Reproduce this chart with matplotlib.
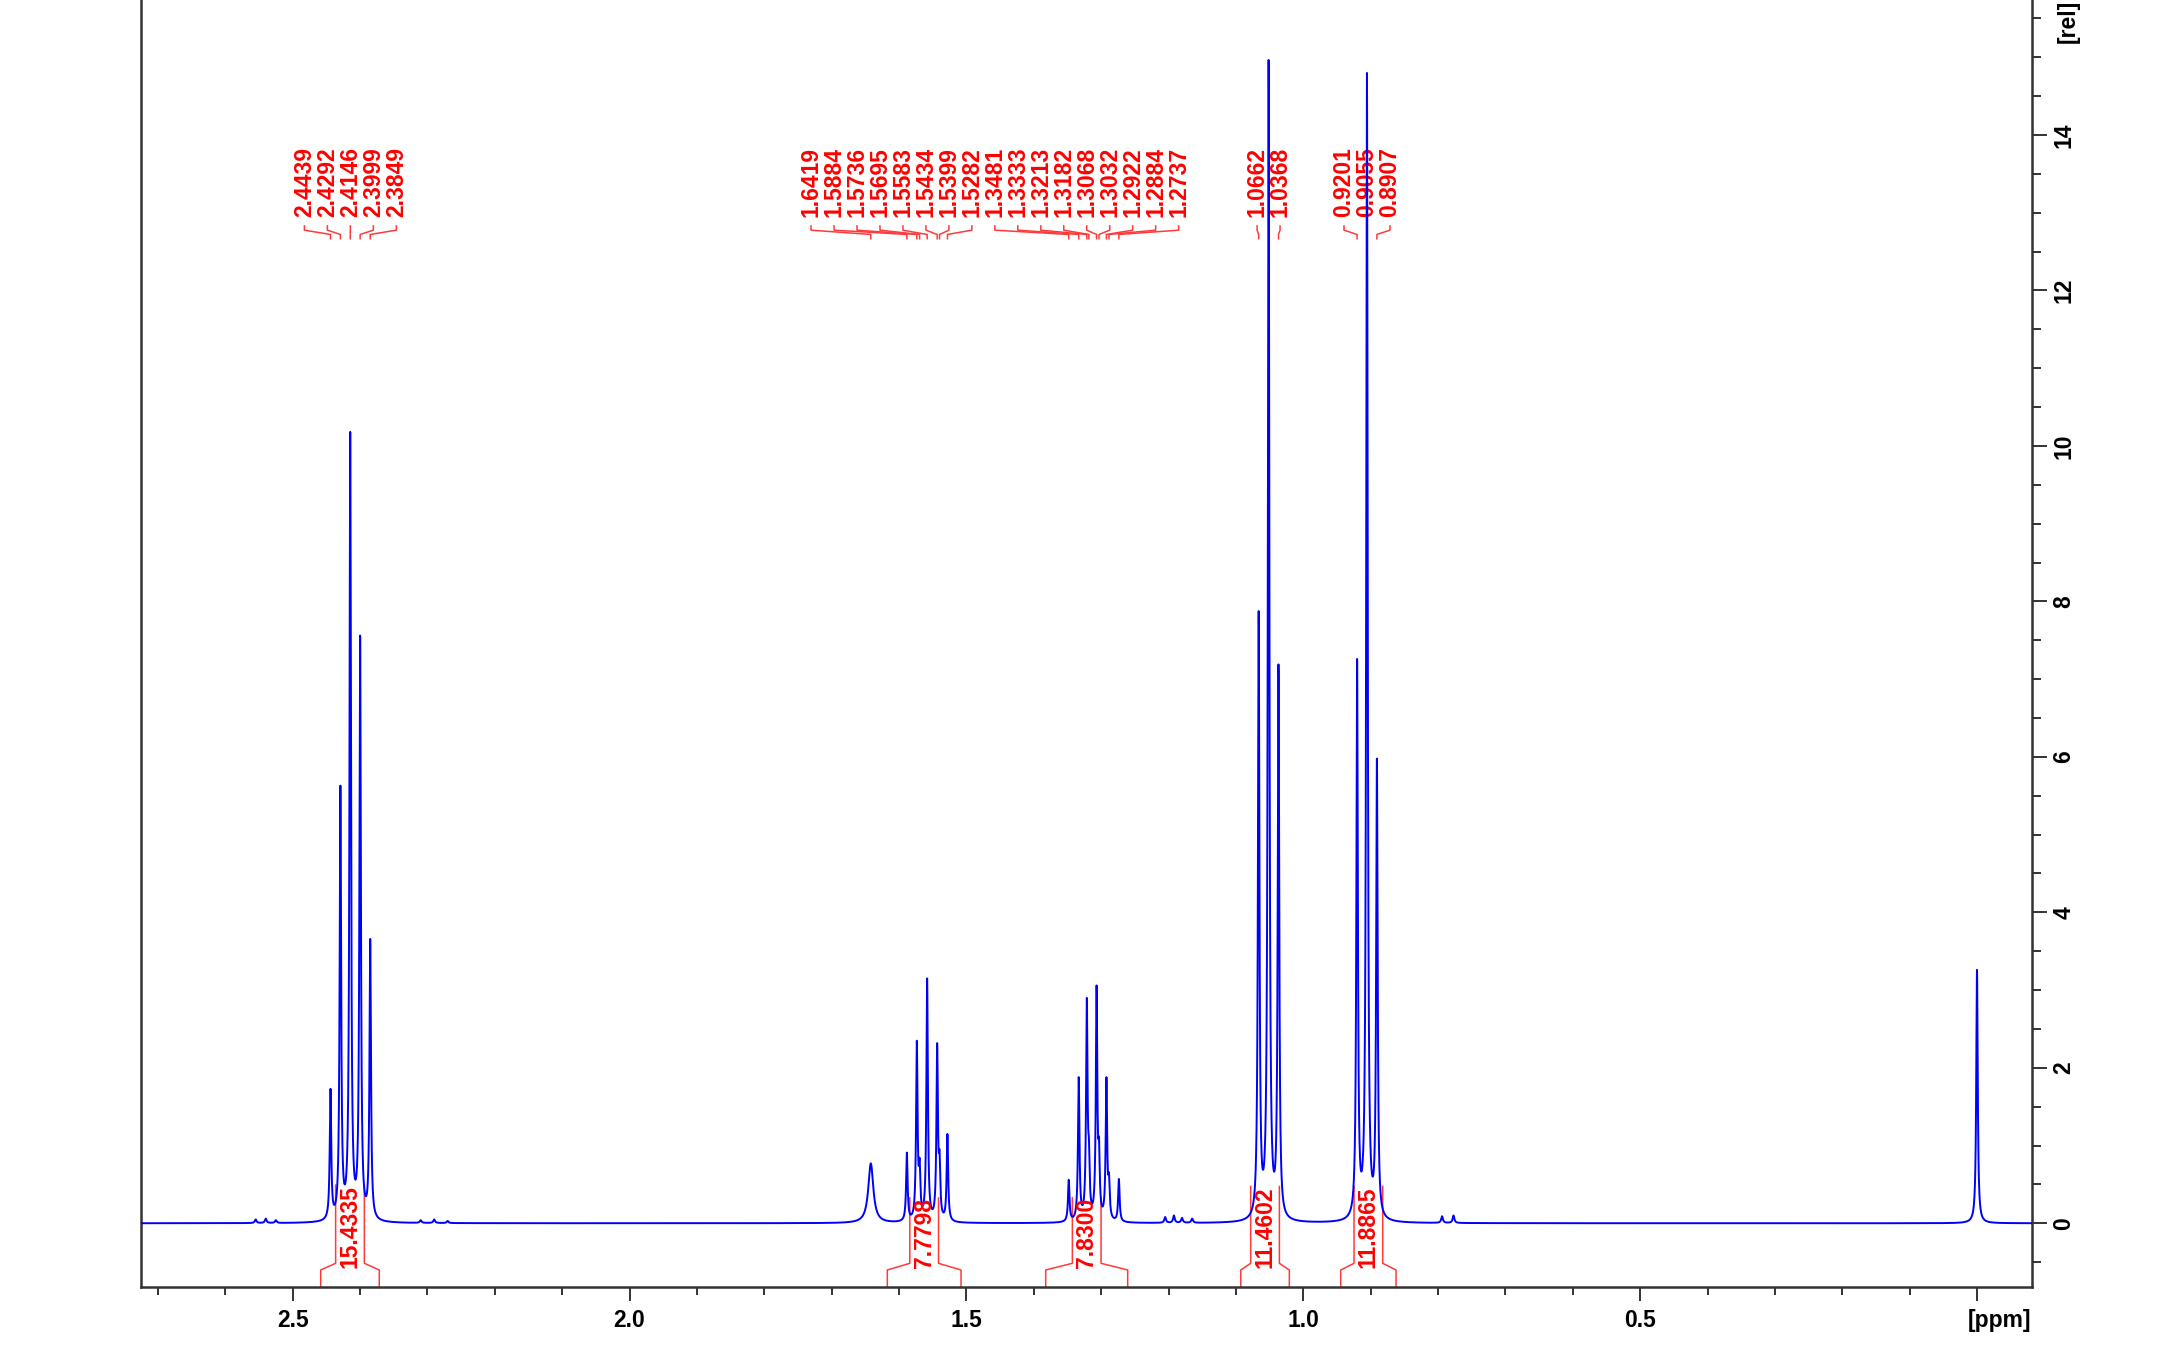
import numpy as np
import matplotlib
matplotlib.use('Agg')
import matplotlib.pyplot as plt
from matplotlib.ticker import MultipleLocator, FixedLocator, FixedFormatter
from matplotlib.transforms import ScaledTranslation

plt.rcParams['font.family'] = ['Liberation Sans', 'DejaVu Sans']
plt.rcParams['font.weight'] = 'bold'

# ---------------- data ----------------
# peak positions (ppm) and apparent heights (rel) of the spectrum trace
g1_ppm = [2.4439, 2.4292, 2.4146, 2.3999, 2.3849]
g1_hgt = [1.73, 5.63, 10.18, 7.56, 3.66]
g2_ppm = [1.6419, 1.5884, 1.5736, 1.5695, 1.5583, 1.5434, 1.5399, 1.5282]
g2_hgt = [0.77, 0.91, 2.35, 0.84, 3.15, 2.32, 0.94, 1.15]
g3_ppm = [1.3481, 1.3333, 1.3213, 1.3182, 1.3068, 1.3032, 1.2922, 1.2884, 1.2737]
g3_hgt = [0.56, 1.88, 2.90, 1.10, 3.06, 1.10, 1.88, 0.65, 0.57]
g4_ppm = [1.0662, 1.0515, 1.0368]
g4_hgt = [7.88, 14.97, 7.19]
g5_ppm = [0.9201, 0.9055, 0.8907]
g5_hgt = [7.26, 14.80, 5.98]
tms_ppm = [0.0]
tms_hgt = [3.26]
small_ppm = [2.555, 2.540, 2.525, 2.310, 2.290, 2.270, 1.205, 1.192, 1.180, 1.165, 0.794, 0.777]
small_hgt = [0.05, 0.06, 0.04, 0.04, 0.05, 0.03, 0.08, 0.10, 0.07, 0.06, 0.09, 0.10]
broad_ppm = [1.6419]

# peak-pick label groups
pick_groups = [
    [2.4439, 2.4292, 2.4146, 2.3999, 2.3849],
    [1.6419, 1.5884, 1.5736, 1.5695, 1.5583, 1.5434, 1.5399, 1.5282,
     1.3481, 1.3333, 1.3213, 1.3182, 1.3068, 1.3032, 1.2922, 1.2884, 1.2737],
    [1.0662, 1.0368],
    [0.9201, 0.9055, 0.8907],
]

# integrals
int_start = [2.4584, 1.6174, 1.3823, 1.0928, 0.9444]
int_end = [2.3715, 1.5080, 1.2606, 1.0207, 0.8623]
int_values = ["15.4335", "7.7798", "7.8300", "11.4602", "11.8865"]

# axis ticks
x_major = [2.5, 2.0, 1.5, 1.0, 0.5, 0.0]
x_major_labels = ["2.5", "2.0", "1.5", "1.0", "0.5", ""]
x_unit_label = "[ppm]"
y_major = [0, 2, 4, 6, 8, 10, 12, 14]
y_major_labels = ["0", "2", "4", "6", "8", "10", "12", "14"]
y_unit_label = "[rel]"

# ---------------- layout / style ----------------
XL, XR = 2.7256, -0.0812
YB, YT = -0.816, 15.736
FS = 16.5
BLUE = '#0000ff'
RED = '#ff0000'
LRED = '#ff3a3a'
AXC = '#333333'
XT_LEN, XT_PAD = 10, 6.3

fig = plt.figure(figsize=(21.6, 13.59), dpi=100)
ax = fig.add_axes([0.06514, 0.0532, 0.87546, 0.9468])
ax.set_xlim(XL, XR)
ax.set_ylim(YB, YT)

# ---------------- spectrum (Lorentzian lines) ----------------
ppm_all = np.array(g1_ppm + g2_ppm + g3_ppm + g4_ppm + g5_ppm + tms_ppm + small_ppm)
h_all = np.array(g1_hgt + g2_hgt + g3_hgt + g4_hgt + g5_hgt + tms_hgt + small_hgt)
w_all = np.full(len(ppm_all), 0.0026)
for i, p in enumerate(ppm_all):
    if p in broad_ppm:
        w_all[i] = 0.009
    if p in small_ppm:
        w_all[i] = 0.003


def lor(x, x0, fwhm):
    g = fwhm / 2.0
    return g * g / (g * g + (x - x0) ** 2)


M = lor(ppm_all[:, None], ppm_all[None, :], w_all[None, :])
amp = np.clip(np.linalg.solve(M, h_all), 0, None)
xs = np.linspace(XL, XR, 30000)
ys = (amp[None, :] * lor(xs[:, None], ppm_all[None, :], w_all[None, :])).sum(axis=1)
ax.plot(xs, ys, color=BLUE, lw=1.4, zorder=3)

# ---------------- peak labels ----------------
SP = 0.0341  # label spacing in ppm
y_txt, y1, y2, y3, y4 = 12.945, 12.83, 12.775, 12.72, 12.665
for grp in pick_groups:
    c = (max(grp) + min(grp)) / 2.0
    n = len(grp)
    for k, p in enumerate(grp):
        xl = c + (n - 1) / 2.0 * SP - k * SP
        ax.text(xl, y_txt, f"{p:.4f}", rotation=90, ha='center', va='bottom',
                color=RED, fontsize=FS, zorder=2)
        ax.plot([xl, xl, p, p], [y1, y2, y3, y4], color=LRED, lw=1.1, zorder=2)

# ---------------- integrals ----------------
HW = 0.0213
y_outer, y_inner, y_tb = -0.601, -0.515, -0.575
texts = []
for s, e, v in zip(int_start, int_end, int_values):
    c = (s + e) / 2.0
    t = ax.text(c, y_tb, v, rotation=90, ha='center', va='bottom',
                color=RED, fontsize=FS, zorder=4)
    texts.append((s, e, c, t))

fig.canvas.draw()
inv = ax.transData.inverted()
for s, e, c, t in texts:
    bb = t.get_window_extent()
    top = inv.transform((0, bb.y1))[1]
    ax.plot([s, s, c + HW, c + HW], [YB, y_outer, y_inner, top], color=LRED, lw=1.1, zorder=2)
    ax.plot([e, e, c - HW, c - HW], [YB, y_outer, y_inner, top], color=LRED, lw=1.1, zorder=2)

# ---------------- axes styling ----------------
ax.spines['top'].set_visible(False)
for sp in ['left', 'right', 'bottom']:
    ax.spines[sp].set_color(AXC)
    ax.spines[sp].set_linewidth(1.8)

ax.xaxis.set_major_locator(FixedLocator(x_major))
ax.xaxis.set_major_formatter(FixedFormatter(x_major_labels))
ax.xaxis.set_minor_locator(MultipleLocator(0.1))
ax.tick_params(axis='x', which='major', length=XT_LEN, width=1.4, color=AXC,
               pad=XT_PAD, labelsize=FS, labelcolor='black')
ax.tick_params(axis='x', which='minor', length=6, width=1.4, color=AXC)

# unit label on the x axis, right-aligned with the right spine
ax.text(1.0, 0.0, x_unit_label, transform=ax.transAxes +
        ScaledTranslation(0, -(XT_LEN + XT_PAD) / 72.0, fig.dpi_scale_trans),
        ha='right', va='top', fontsize=FS, color='black')

ax.yaxis.tick_right()
ax.yaxis.set_major_locator(FixedLocator(y_major))
ax.yaxis.set_major_formatter(FixedFormatter(y_major_labels))
ax.yaxis.set_minor_locator(MultipleLocator(0.5))
ax.tick_params(axis='y', which='major', length=10.8, width=1.4, color=AXC,
               pad=4, labelsize=FS, labelrotation=90, labelcolor='black')
ax.tick_params(axis='y', which='minor', length=6.5, width=1.4, color=AXC)
for lbl in ax.get_yticklabels():
    lbl.set_va('center')
    lbl.set_ha('left')

fig.text(2068 / 2160, 1 - 21 / 1359, y_unit_label, rotation=90, ha='center', va='center',
         fontsize=FS, color='black')

fig.savefig('out.png', dpi=100)
